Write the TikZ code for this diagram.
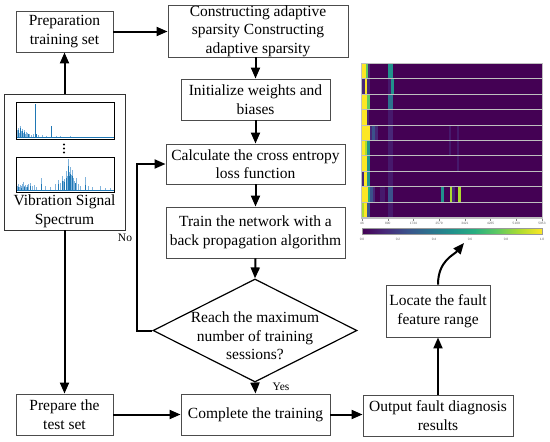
\documentclass[tikz,border=0pt]{standalone}
\usepackage{fontspec}
\setmainfont{Liberation Serif}
\newfontfamily\tickfont{Liberation Sans}
\usetikzlibrary{arrows.meta,shapes.geometric,calc}
\definecolor{v0}{RGB}{68,1,84}
\definecolor{v0b}{RGB}{70,25,108}
\definecolor{v1}{RGB}{72,40,120}
\definecolor{v2}{RGB}{59,82,139}
\definecolor{v3}{RGB}{44,114,142}
\definecolor{v4}{RGB}{33,145,140}
\definecolor{v5}{RGB}{40,174,128}
\definecolor{v6}{RGB}{94,201,98}
\definecolor{v7}{RGB}{173,220,48}
\definecolor{v8}{RGB}{253,231,37}
\definecolor{specd}{RGB}{31,119,180}
\definecolor{specl}{RGB}{130,180,220}
\pgfdeclarehorizontalshading{viridis}{100bp}{rgb(0bp)=(0.267,0.004,0.329); rgb(25bp)=(0.267,0.004,0.329); rgb(31.25bp)=(0.282,0.157,0.471); rgb(37.5bp)=(0.231,0.322,0.545); rgb(43.75bp)=(0.173,0.447,0.557); rgb(50bp)=(0.129,0.569,0.549); rgb(56.25bp)=(0.157,0.682,0.502); rgb(62.5bp)=(0.369,0.788,0.384); rgb(68.75bp)=(0.678,0.863,0.188); rgb(75bp)=(0.992,0.906,0.145); rgb(100bp)=(0.992,0.906,0.145)}
\newcommand\hseg[4]{\fill[#4] (#2,{64+#1*15.4}) rectangle (#3,{64+#1*15.4+14.4});}
\tikzset{
  box/.style={draw=black!70, line width=0.9pt, align=center, inner sep=0pt, font=\fontsize{15.5}{18.5}\selectfont},
  arr/.style={line width=2pt, -{Triangle[length=11pt,width=9pt]}},
  small/.style={font=\fontsize{11.5}{13}\selectfont, inner sep=0pt},
  tick/.style={font=\tickfont\fontsize{3.2}{4}\selectfont, text=black!60, inner sep=0pt},
  spec/.style={specd, line width=0.7pt},
  specb/.style={specl, line width=0.7pt}
}
\begin{document}
\begin{tikzpicture}[x=1pt,y=-1pt]
\useasboundingbox (0,0) rectangle (550,442);
\fill[white] (0,0) rectangle (550,442);
% boxes
\node[box, minimum width=97pt, minimum height=41pt] (prep) at (64.5,31.5) {Preparation\\training set};
\node[box, minimum width=180pt, minimum height=52pt] (cons) at (258,31) {Constructing adaptive\\sparsity Constructing\\adaptive sparsity};
\node[box, minimum width=149pt, minimum height=41pt] (init) at (255.5,99.5) {Initialize weights and\\biases};
\node[box, minimum width=179pt, minimum height=40pt] (calc) at (255.5,164) {Calculate the cross entropy\\loss function};
\node[box, minimum width=179pt, minimum height=51pt] (train) at (255.5,232.5) {Train the network with a\\back propagation algorithm};
\node[diamond, draw=black, line width=1.2pt, minimum width=204pt, minimum height=103pt, inner sep=0pt] (dia) at (255,330.5) {};
\node[align=center, inner sep=0pt, font=\fontsize{15.5}{18.5}\selectfont] (diat) at (255,336) {Reach the maximum\\number of training\\sessions?};
\node[box, minimum width=149pt, minimum height=41pt] (comp) at (255.5,414.5) {Complete the training};
\node[box, minimum width=150pt, minimum height=41pt] (outp) at (438,415.5) {Output fault diagnosis\\results};
\node[box, minimum width=104pt, minimum height=52pt] (loc) at (438,311) {Locate the fault\\feature range};
\node[box, minimum width=97pt, minimum height=41pt] (test) at (64.5,414.5) {Prepare the\\test set};
\node[draw=black!80, line width=0.9pt, minimum width=121pt, minimum height=136pt, inner sep=0pt] (vib) at (64.5,162) {};
\node[align=center, inner sep=0pt, font=\fontsize{15.5}{18.5}\selectfont] (vibt) at (64.5,211.5) {Vibration Signal\\Spectrum};
% spectrum plot 1
\foreach \x/\t in {17/130,18/128,19/133,20/126,21/131,22/129,23/133,24/130,25/134,26/132,27/133,29/134,31/135,33/134,38/135,42/135,46/136,56/136,60/136,70/136,80/136.5,95/136.5,108/136.5}
  \draw[specb] (\x,137.5) -- (\x,\t);
\foreach \x/\t in {18/130,20/128,22/131,24/132,35/104,51/126,28/134,36/134}
  \draw[spec] (\x,137.5) -- (\x,\t);
\draw[specd, line width=0.5pt] (16.5,137.3) -- (113.5,137.3);
\draw[black, line width=1pt] (16,102) rectangle (114,139);
\fill (64,144.5) circle (1.2pt) (64,148.5) circle (1.2pt) (64,152.5) circle (1.2pt);
% spectrum plot 2
\foreach \x/\t in {17/186,18/184,19/187,20/185,21/186,22/184,23/182,24/186,25/185,26/187,27/185,28/184,30/183,32/186,34/185,36/187,41/178,45/186,50/187,55/184,58/180,60/183,62/176,63/181,64/179,66/171,67/176,68/159,69/172,70/167,71/175,72/170,73/178,74/181,76/178,78/184,80/186,85/177,88/186,92/187,100/186,105/188,110/188}
  \draw[specb] (\x,190.5) -- (\x,\t);
\foreach \x/\t in {18/187,21/188,24/187,27/187,30/186,41/184,58/184,62/181,64/182,66/178,68/166,69/176,70/174,72/176,75/183,85/185}
  \draw[spec] (\x,190.5) -- (\x,\t);
\draw[specd, line width=0.5pt] (16.5,190.3) -- (113.5,190.3);
\draw[black, line width=1pt] (16,157) rectangle (114,192);
% heatmap
\fill[black!25] (361.3,63.3) rectangle (542.7,218.7);
\foreach \r in {0,...,9} {\hseg{\r}{362}{542}{v0}}
\hseg{0}{362}{366}{v8}\hseg{0}{366}{368}{v6}\hseg{0}{368}{370}{v1}\hseg{0}{388}{393}{v4}
\hseg{1}{362}{364.5}{v1}\hseg{1}{364.5}{367}{v8}\hseg{1}{367}{369.5}{v1}\hseg{1}{388}{391}{v0b}\hseg{1}{391}{393.5}{v4}
\hseg{2}{362}{367}{v8}\hseg{2}{367}{369.5}{v6}\hseg{2}{388}{393}{v3}
\hseg{3}{362}{367}{v8}\hseg{3}{367}{368.5}{v1}\hseg{3}{388}{393}{v0b}
\hseg{4}{362}{370}{v8}\hseg{4}{370}{372}{v1}\hseg{4}{372}{375}{v2}\hseg{4}{375}{378}{v1}\hseg{4}{388}{393}{v1}\hseg{4}{449}{451}{v0b}\hseg{4}{457}{459}{v0b}
\hseg{5}{362}{365}{v8}\hseg{5}{365}{367}{v7}\hseg{5}{367}{370}{v4}\hseg{5}{388}{393}{v0b}\hseg{5}{449}{451}{v0b}\hseg{5}{457}{459}{v0b}
\hseg{6}{362}{367}{v8}\hseg{6}{367}{370}{v4}\hseg{6}{388}{393}{v0b}\hseg{6}{457}{459}{v0b}
\hseg{7}{362}{364}{v1}\hseg{7}{364}{367}{v8}\hseg{7}{367}{370}{v4}\hseg{7}{388}{393}{v0b}
\hseg{8}{362}{368}{v8}\hseg{8}{368}{370}{v5}\hseg{8}{370}{373}{v2}\hseg{8}{373}{375}{v1}\hseg{8}{380}{385}{v0b}\hseg{8}{388}{393}{v2}\hseg{8}{441}{444}{v4}\hseg{8}{450}{452}{v7}\hseg{8}{452}{455}{v1}\hseg{8}{458}{461}{v7}
\hseg{9}{362}{363.5}{v7}\hseg{9}{363.5}{367}{v8}\hseg{9}{367}{369.5}{v2}\hseg{9}{388}{393}{v0b}
\foreach \i/\l in {0/46,1/890,2/1734,3/2579,4/3421,5/4265,6/5109,7/5953} {
  \draw[black!50, line width=0.3pt] ({362+\i*25.714},218.7) -- ({362+\i*25.714},220.5);
  \node[tick] at ({362+\i*25.714},223) {\l};
}
\shade[shading=viridis] (362,228) rectangle (542,234.3);
\draw[black!40, line width=0.3pt] (362,228) rectangle (542,234.3);
\foreach \i/\l in {0/0.0,1/0.2,2/0.4,3/0.6,4/0.8,5/1.0} {
  \node[tick] at ({362+\i*36},239) {\l};
}
\coordinate (hm) at (464,243);
% connectors
\draw[arr] (prep.east) -- (prep.east -| cons.west);
\draw[arr] (init.north |- cons.south) -- (init.north);
\draw[arr] (init.south) -- (calc.north);
\draw[arr] (calc.south) -- (train.north);
\draw[arr] (train.south) -- (dia.north);
\draw[arr] (dia.south) -- (comp.north);
\draw[arr] (dia.west) -- ++(-15,0) |- (calc.west);
\draw[arr] (vib.north) -- (prep.south);
\draw[arr] (vib.south) -- (test.north);
\draw[arr] (test.east) -- (comp.west);
\draw[arr] (comp.east) -- (comp.east -| outp.west);
\draw[arr] (outp.north) -- (loc.south);
\draw[arr] (loc.north) .. controls +(0,-24) and +(-10,12) .. (hm);
\node[small] (no) at (125,238) {No};
\node[small] (yes) at (281,387) {Yes};
\end{tikzpicture}
\end{document}
